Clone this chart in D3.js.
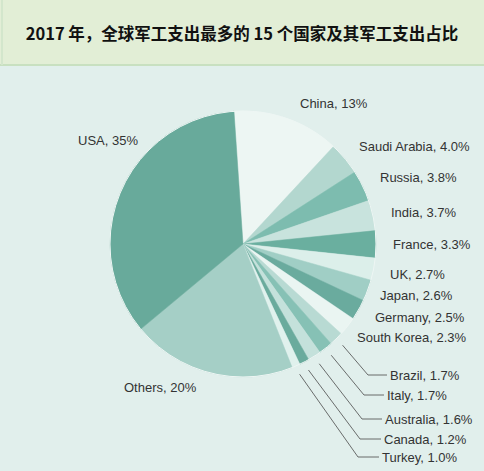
<!DOCTYPE html>
<html>
<head>
<meta charset="utf-8">
<script src="https://cdn.jsdelivr.net/npm/d3@7"></script>
<style>
  html, body { margin: 0; padding: 0; background: #e1efec; }
  svg { display: block; }
</style>
</head>
<body>
<svg id="chart" width="484" height="471"></svg>
<script>
// ---- data ----
const title = "2017 年，全球军工支出最多的 15 个国家及其军工支出占比";
const countries = ["China", "Saudi Arabia", "Russia", "India", "France", "UK", "Japan",
  "Germany", "South Korea", "Brazil", "Italy", "Australia", "Canada", "Turkey", "Others", "USA"];
const shares = [13, 4.0, 3.8, 3.7, 3.3, 2.7, 2.6, 2.5, 2.3, 1.7, 1.7, 1.6, 1.2, 1.0, 20, 35];
const sliceColors = ["#edf6f3", "#b3d7cf", "#7dbcaf", "#c8e3dd", "#6aaf9f", "#dcefea", "#a0cec5",
  "#6aab9e", "#eaf5f2", "#b8dad3", "#86c1b5", "#c4e1db", "#6aab9d", "#e0f1ed", "#a5cfc6", "#68aa9b"];

// ---- layout (label anchor points, leader-line bends) ----
const labelLayout = [
  [300, 103], [359, 146], [380, 177], [391, 212], [393, 244], [390, 274], [380, 295],
  [375, 317], [357, 337], [390, 375], [387, 395], [385, 419], [384, 439], [382, 457],
  [124, 387], [78, 140]
];
const leaderBendX = {9: 368, 10: 364, 11: 362, 12: 360, 13: 358};

const svg = d3.select("#chart");
const W = 484, H = 471;

// background
svg.append("rect").attr("width", W).attr("height", H).attr("fill", "#e1efec");

// title bar
svg.append("rect").attr("x", 0).attr("y", 0).attr("width", W).attr("height", 65).attr("fill", "#e2eed6");
svg.append("rect").attr("x", 0).attr("y", 64).attr("width", W).attr("height", 2).attr("fill", "#c8e0c0");
svg.append("rect").attr("x", 1).attr("y", 0).attr("width", 2).attr("height", 65).attr("fill", "#d3e6cc");
svg.append("text")
  .attr("x", 242).attr("y", 33)
  .attr("text-anchor", "middle").attr("dominant-baseline", "central")
  .attr("font-family", "'Noto Sans CJK SC', sans-serif")
  .attr("font-weight", "bold").attr("font-size", 16.5).attr("fill", "#111")
  .text(title);

// pie
const cx = 243, cy = 244, R = 133;
const startA = -0.068;
const pie = d3.pie().sort(null).value(d => d).startAngle(startA).endAngle(startA + 2 * Math.PI);
const arcs = pie(shares);
const arc = d3.arc().innerRadius(0).outerRadius(R);
const g = svg.append("g").attr("transform", `translate(${cx},${cy})`);
g.selectAll("path").data(arcs).enter().append("path")
  .attr("d", arc)
  .attr("fill", (d, i) => sliceColors[i])
  .attr("stroke", (d, i) => sliceColors[i])
  .attr("stroke-width", 0.5);
g.append("circle").attr("r", R).attr("fill", "none").attr("stroke", "#eef6f4").attr("stroke-width", 1);

// leader lines
const fmt = v => (v >= 10 ? d3.format(".0f")(v) : d3.format(".1f")(v)) + "%";
const lineR = 142;
arcs.forEach((d, i) => {
  if (leaderBendX[i] === undefined) return;
  const mid = (d.startAngle + d.endAngle) / 2;
  const sx = cx + lineR * Math.sin(mid), sy = cy - lineR * Math.cos(mid);
  const [lx, ly] = labelLayout[i];
  const bx = leaderBendX[i];
  svg.append("polyline")
    .attr("points", `${sx},${sy} ${bx},${ly} ${lx - 3},${ly}`)
    .attr("fill", "none").attr("stroke", "#4a4a4a").attr("stroke-width", 0.8);
});

// labels
svg.selectAll("text.lbl").data(arcs).enter().append("text")
  .attr("class", "lbl")
  .attr("x", (d, i) => labelLayout[i][0])
  .attr("y", (d, i) => labelLayout[i][1])
  .attr("dominant-baseline", "central")
  .attr("font-family", "'Liberation Sans', Arial, sans-serif")
  .attr("font-size", 13).attr("fill", "#333")
  .text((d, i) => `${countries[i]}, ${fmt(shares[i])}`);
</script>
</body>
</html>
